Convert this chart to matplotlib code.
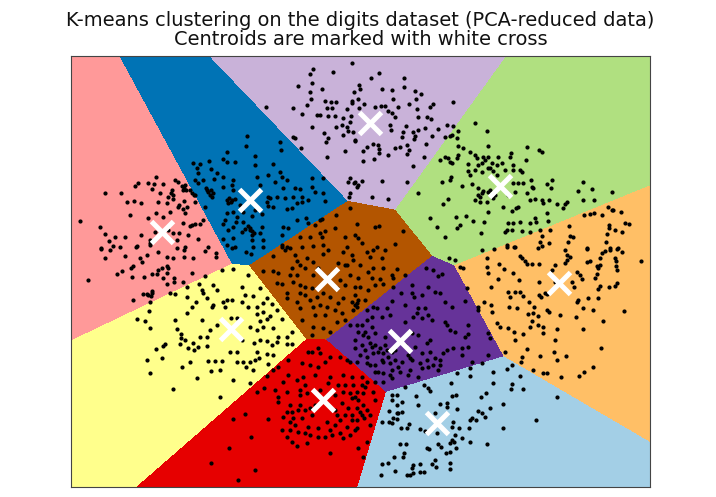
import numpy as np
import matplotlib
matplotlib.use('Agg')
import matplotlib.pyplot as plt
from matplotlib.colors import ListedColormap

centroids = [(162,232),(250,200),(370,123),(500,186),(559,283),(327,279),(400,341),(437,423),(323,400),(231,329)]
region_colors = ['#ff9999','#0073b5','#c9b2d9','#b0e080','#ffbf66','#b35500','#663399','#a3cfe6','#e60000','#ffff8c']

lilac = [(352,63),(313,69),(310,74),(333,72),(312,83),(298,86),(310,92),(322,89),(354,92),(311,99),(325,101),(331,102),(336,102),(352,101),(307,105),(293,108),(266,107),(327,108),(332,108),(347,109),(302,114),(317,115),(320,115),(328,116),(335,116),(351,116),(343,118),(350,122),(312,127),(342,125),(336,127),(347,127),(348,131),(353,132),(324,133),(343,135),(293,137),(295,138),(328,138),(355,140),(326,142),(301,148),(345,151),(327,157),(350,178),(348,182),(354,183),(357,187),(350,193),(349,197),
(379,73),(371,78),(404,78),(359,85),(360,89),(382,89),(392,90),(404,87),(415,91),(421,94),(416,99),(393,99),(453,102),(358,99),(364,104),(352,103),(381,106),(385,106),(398,107),(409,104),(433,104),(430,107),(417,109),(359,108),(375,107),(388,111),(392,113),(418,117),(395,117),(427,117),(431,119),(390,125),(391,130),(406,126),(425,128),(447,125),(453,126),(438,129),(418,130),(413,132),(403,132),(432,136),(402,137),(415,136),(445,137),(450,136),(414,139),(407,145),(426,144),(373,144),(378,145),(355,141),(367,147),(363,151),(379,149),(379,153),(395,148),(400,147),(409,150),(388,155),(374,159),(363,161),(424,157),(407,154),(413,166),(355,182),(362,181),(358,185),(382,181),(407,182),(372,197),(388,199)]

green = [(475,123),(487,131),(458,131),(457,138),(452,135),(458,146),(463,148),(488,146),(527,147),(539,150),(542,152),(470,152),(458,155),(475,155),(511,153),(510,157),(445,157),(440,160),(448,158),(457,158),(477,158),(483,157),(488,157),(498,157),(526,160),(452,163),(450,162),(468,164),(482,163),(492,163),(502,163),(513,165),(468,171),(475,170),(482,172),(488,168),(493,171),(513,170),(520,170),(522,172),(451,177),(442,182),(450,180),(470,175),(497,175),(531,180),(552,180),(462,186),(472,184),(513,183),(518,183),(523,183),(547,184),(583,182),(478,188),(483,191),(532,187),(533,188),(551,188),(578,191),(592,189),(612,192),(418,193),(482,193),(488,192),(515,192),(527,193),(480,197),(475,200),(480,202),(493,198),(448,199),(443,204),(487,202),(530,200),(535,199),(542,200),(549,200),(567,202),(583,200),(594,200),(557,204),(565,204),(563,208),(543,203),(503,207),(518,207),(516,208),(512,211),(488,212),(547,213),(430,218),(456,217),(466,216),(473,221),(484,222),(508,223),(513,223),(520,222),(535,218),(536,222),(548,221),(530,223),(437,227),(460,225),(457,228),(507,230),(512,230),(505,232),(481,233),(522,231),(530,232),(445,237),(540,230),(449,258),(455,260),(460,267),(463,268),
(478,165),(485,160),(490,168),(497,165),(505,170),(490,190),(495,195),(478,195),(508,195)]

orange = [(584,215),(590,214),(594,213),(608,207),(612,210),(613,210),(621,212),(602,215),(625,223),(629,224),(609,225),(609,228),(615,230),(622,232),(607,234),(569,226),(550,230),(542,236),(570,236),(573,237),(568,242),(606,242),(540,242),(549,243),(542,246),(507,245),(515,247),(587,248),(610,248),(618,248),
(482,250),(494,249),(507,247),(514,247),(487,258),(520,256),(522,258),(538,248),(565,250),(587,249),(605,251),(610,250),(617,249),(622,252),(602,253),(600,258),(615,258),(616,261),(641,261),(567,255),(570,257),(567,260),(565,263),(525,261),(527,264),(532,264),(539,264),(555,265),(552,270),(587,262),(590,261),(597,266),(600,265),(598,268),(616,266),(617,270),(577,272),(580,275),(582,279),(597,274),(595,278),(487,267),(499,264),(504,269),(488,273),(513,273),(498,279),(519,280),(539,282),(555,282),(572,282),(574,287),(617,283),(615,286),(609,287),(600,286),(598,289),(491,287),(467,288),(508,292),(510,297),(515,292),(520,292),(523,296),(539,295),(541,297),(545,293),(547,294),(588,298),(598,298),(578,300),(577,302),(484,302),(491,305),(478,307),(478,310),(509,307),(517,308),(529,302),(534,307),(583,308),(593,310),(547,310),(549,312),(492,312),(528,314),(533,313),(538,316),(560,315),(576,317),(624,311),(603,321),(532,321),(497,323),(500,327),(508,328),(530,327),(538,325),(543,327),(557,329),(583,329),(514,332),(523,334),(543,333),(515,340),(555,340),(527,349),(601,348),(554,352),(540,356),(566,356),(557,360),(522,357),(521,362),(505,352),(593,367),(584,372),(579,376),(533,370),(543,373),(547,373),(561,377)]

purple = [(426,268),(433,270),(438,276),(442,274),(405,275),(412,285),(393,287),(428,287),(435,292),(440,293),(401,293),(412,293),(414,297),(422,295),(392,301),(373,307),(367,310),(377,308),(387,308),(405,305),(418,308),(425,308),(445,302),(465,301),(452,307),(417,313),(413,317),(428,315),(390,315),(382,317),(372,317),(367,320),(357,325),(362,325),(372,327),(405,322),(422,318),(432,320),(445,322),(447,325),(468,325),(450,330),(455,332),(488,333),(490,338),(468,334),(465,337),(365,332),(355,340),(363,335),(375,333),(385,337),(418,335),(412,333),(430,340),(427,343),(422,353),(415,347),(370,343),(362,345),(355,348),(380,348),(387,350),(383,353),(373,353),(367,357),(447,350),(453,348),(462,348),(468,347),(443,353),(462,355),(408,355),(395,360),(402,362),(412,360),(427,360),(440,360),(367,363),(375,365),(383,362),(390,363),(420,363),(433,365),(440,365),(378,372),(383,373),(392,370),(398,367),(410,370),(422,368),(428,367),(438,370),(383,382),(392,378),(408,375),(418,377),(482,363),(472,362),(488,355),
(358,332),(368,337),(375,345),(378,352),(385,345),(392,352),(382,360),(370,365),(360,355),(375,372),(390,375),(395,350),(405,345),(410,358),(400,372),(430,352),(435,358),(372,347),(388,357),(365,350)]

light_blue = [(470,368),(457,373),(470,376),(493,372),(507,369),(512,365),(520,376),(493,383),(512,384),(511,389),(523,389),(451,383),(424,385),(428,388),(430,391),(405,387),(392,395),(397,395),(402,402),(416,396),(452,396),(456,395),(481,397),(486,393),(557,397),(392,400),(397,405),(418,405),(440,404),(447,403),(447,407),(503,404),(490,408),(457,409),(478,411),(389,411),(398,413),(402,412),(435,413),(482,413),(485,417),(397,413),(393,418),(397,419),(476,420),(470,420),(472,418),(536,420),(382,422),(389,422),(392,423),(453,422),(469,428),(409,424),(401,428),(407,428),(420,429),(425,431),(437,433),(459,428),(452,427),(503,428),(455,435),(462,438),(470,442),(487,444),(452,440),(450,443),(454,442),(400,444),(406,444),(438,444),(441,447),(427,448),(429,449),(456,448),(404,453),(403,457),(394,457),(446,453),(450,452),(435,460),(432,464),(436,467),(450,463),(450,469),(382,464),(388,463),(395,471),(413,465),(420,464),(412,468),(420,472),(424,472),(413,473),(381,475),(407,475),(410,475)]

red = [(308,352),(312,352),(318,348),(320,353),(288,360),(330,357),(340,357),(347,360),(278,367),(273,370),(302,363),(310,365),(318,367),(325,362),(357,362),(267,376),(288,375),(297,380),(283,382),(303,377),(330,377),(343,375),(352,377),(257,392),(264,388),(275,390),(287,392),(305,385),(328,383),(338,385),(353,385),(278,397),(300,395),(307,393),(343,392),(350,393),(355,397),(278,402),(287,412),(292,412),(298,410),(305,410),(342,403),(348,408),(233,419),(245,414),(268,419),(283,417),(293,418),(302,418),(312,415),(327,422),(337,415),(352,415),(290,422),(282,430),(290,430),(308,427),(318,428),(335,425),(347,427),(355,430),(287,437),(305,433),(318,437),(325,437),(332,435),(343,438),(350,435),(251,437),(292,442),(297,446),(307,443),(358,448),(229,448),(330,453),(211,463),(255,470),(238,480),
(350,362),(362,377),(367,382),(375,382),(357,392),(363,393),(373,392),(352,398),(363,405),(375,400),(367,410),(357,408),(370,415),(357,420),(352,420),(370,425),(357,428),(367,442),(363,457),
(300,405),(310,408),(315,405),(335,410),(340,420),(295,425),(298,432),(310,435),(330,430),(340,433),(345,415),(362,385),(365,387),(358,400),(360,412),(362,415),(364,418),(300,390),(320,390),(335,395),(290,405),(315,375),(345,385)]

yellow = [(233,269),(222,270),(248,275),(205,276),(187,287),(199,284),(213,285),(242,287),(260,288),(202,290),(217,290),(170,293),(175,294),(187,297),(203,293),(207,298),(245,295),(253,296),(267,298),(148,295),(152,293),(150,302),(196,302),(213,305),(223,302),(227,300),(232,300),(242,302),(263,303),(272,304),(192,307),(212,307),(225,307),(248,307),(257,307),(277,310),(149,311),(187,313),(263,312),(257,314),(137,319),(145,321),(175,320),(202,320),(231,318),(237,318),(260,321),(267,319),(270,316),(282,319),(150,328),(177,329),(217,325),(210,330),(250,327),(263,327),(273,328),(257,330),(292,332),(181,334),(200,337),(207,337),(181,338),(185,340),(242,340),(260,340),(267,341),(287,337),(278,337),(165,344),(163,346),(193,343),(207,346),(180,344),(188,348),(198,347),(230,352),(237,352),(254,343),(272,345),(277,342),(287,344),(292,344),(156,349),(194,350),(257,352),(267,354),(273,355),(147,360),(162,358),(190,362),(208,361),(215,361),(222,361),(237,362),(243,362),(250,362),(255,360),(259,358),(182,367),(268,364),(246,367),(211,371),(220,370),(253,370),(150,373),(197,378),(233,380),(250,383),(173,389),(220,397)]

pink = [(156,177),(138,183),(135,186),(148,183),(154,184),(163,184),(175,180),(178,182),(185,185),(183,190),(105,193),(121,193),(152,189),(172,190),(160,193),(173,195),(168,197),(127,202),(134,201),(141,203),(158,202),(167,203),(184,201),(178,207),(187,207),(194,195),(195,202),(130,215),(156,213),(170,212),(185,213),(80,221),(148,218),(163,217),(183,223),(203,220),(100,227),(192,225),(200,224),(105,234),(125,237),(115,237),(141,235),(173,233),(179,233),(198,239),(109,241),(150,243),(177,240),(188,235),(113,246),(137,246),(101,248),(185,247),(208,247),
(110,250),(120,247),(136,247),(101,249),(105,258),(125,256),(158,252),(150,245),(177,248),(184,250),(205,251),(216,253),(216,257),(140,258),(147,255),(142,262),(167,257),(173,258),(184,257),(193,258),(133,266),(131,268),(167,266),(162,268),(158,270),(168,268),(122,271),(117,274),(152,274),(157,274),(167,273),(192,273),(88,280),(132,277),(144,277),(174,278),(163,278),(174,282),(183,282),(167,284),(152,291),(133,300),(143,294),(147,294),(151,296),
(184,188),(186,190),(182,186),(171,193),(173,199),(179,205),(183,209),(190,226),(195,224),(168,230),(150,240),(155,232)]

blue = [(247,136),(246,146),(280,142),(281,150),(227,152),(223,159),(235,162),(255,156),(227,162),(193,163),(200,164),(209,161),(255,165),(273,164),(197,168),(211,169),(217,173),(223,177),(198,173),(195,180),(203,180),(214,179),(233,180),(257,177),(268,175),(280,172),(287,180),(282,177),(312,178),(323,178),(232,185),(223,187),(260,185),(275,182),(283,188),(295,188),(207,190),(210,195),(233,190),(198,183),(300,189),(312,187),(315,192),(195,195),(212,197),(227,200),(232,200),(268,197),(277,197),(293,197),(302,197),(323,193),(308,200),(325,201),(205,207),(267,202),(268,206),(273,207),(297,203),(302,202),(287,209),(292,208),(227,213),(233,212),(243,212),(252,216),(225,220),(237,217),(243,222),(297,220),(306,218),(308,223),(320,220),(223,224),(233,227),(262,227),(283,227),(288,228),(242,232),(250,230),(252,235),(260,233),(282,235),(223,239),(233,238),(252,240),(263,240),(227,245),(235,247),(232,248),(246,252),(251,254),(253,247),(263,247),
(206,188),(208,192),(211,190),(213,193),(229,198),(231,202),(235,199),(228,203),(190,190),(192,193),(248,226),(250,228),(252,231),(254,233),(245,229),(236,222),(228,230),(240,205),(255,210),(262,214),(270,198),(285,198)]

brown = [(350,208),(336,215),(322,219),(335,228),(315,225),(320,233),(325,231),(310,237),(322,237),(300,237),(345,237),(282,245),(287,247),(302,247),(313,246),(323,245),(347,247),(357,224),(375,227),(379,226),(403,231),(355,235),(358,238),(395,244),(362,243),(377,247),
(282,247),(290,248),(273,256),(297,261),(307,258),(313,262),(323,254),(328,250),(343,252),(338,263),(347,265),(263,271),(273,271),(278,273),(292,268),(305,268),(297,275),(277,283),(282,284),(293,282),(305,287),(313,275),(350,275),(358,278),(287,293),(300,293),(312,288),(323,293),(337,288),(345,285),(287,298),(297,302),(317,297),(330,297),(343,298),(357,303),(300,308),(313,307),(327,307),(338,303),(302,320),(315,315),(342,313),(345,320),(337,322),(313,327),(323,328),(330,332),(312,335),
(373,250),(367,252),(370,257),(382,258),(353,260),(373,268),(368,272),(383,268),(397,269),(372,278),(380,279),(392,275),(393,278),(355,287),(360,287),(368,290),(383,284),(355,295),(357,307),(352,302),(353,310),
(355,305),(358,300),(285,250),(295,255),(300,265),(318,268),(330,275),(340,280),(305,295),(310,300),(320,305),(335,310),(325,315),(300,285),(290,275),(345,265),(352,255),(360,265),(375,285),(385,250),(365,300),(350,325)]

xlim = (71, 650)
ylim = (487, 56)
y_weight = 1.49  # y units count more than x units, axes are not square in data

xx, yy = np.meshgrid(np.arange(xlim[0], xlim[1], 0.5), np.arange(ylim[1], ylim[0], 0.5))
c = np.array(centroids)
dist = [(xx - cx)**2 + y_weight*(yy - cy)**2 for cx, cy in c]
labels = np.argmin(dist, axis=0)

fig = plt.figure(figsize=(7.16, 4.97), dpi=100)
ax = fig.add_axes([71/716, 1 - 487/497, 579/716, 431/497])
ax.imshow(labels, extent=(xlim[0], xlim[1], ylim[0], ylim[1]), origin='upper',
          cmap=ListedColormap(region_colors), interpolation='nearest', aspect='auto')

for cluster in [lilac, green, orange, purple, light_blue, red, yellow, pink, blue, brown]:
	pts = np.array(cluster)
	ax.plot(pts[:,0], pts[:,1], 'k.', markersize=4)

ax.scatter(c[:,0], c[:,1], marker='x', s=250, linewidths=3.6, color='w', zorder=10)
ax.set_title('K-means clustering on the digits dataset (PCA-reduced data)\nCentroids are marked with white cross', fontsize=13.95, pad=8.2, color='#111111', linespacing=1.0)
ax.set_xlim(*xlim)
ax.set_ylim(*ylim)
ax.set_xticks([])
ax.set_yticks([])
for s in ax.spines.values():
	s.set_color('#444444')
fig.savefig('out.png', dpi=100)
